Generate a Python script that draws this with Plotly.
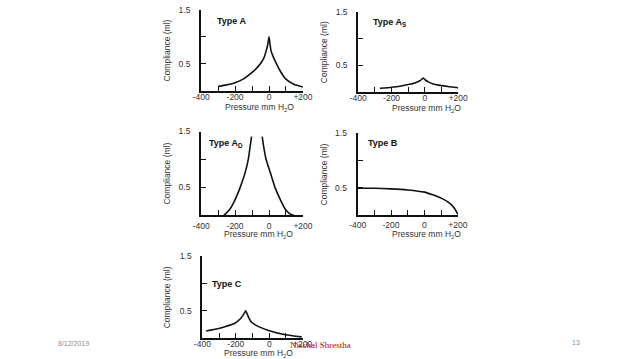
import plotly.graph_objects as go

W, H = 638, 359

# ---------------- data ----------------
PRESSURE_A = [-300, -250, -200, -150, -100, -70, -45, -30, -17, -8, 0, 6, 12, 25, 41, 60, 98, 146, 200]
COMPLIANCE_A = [0.08, 0.11, 0.15, 0.22, 0.34, 0.43, 0.53, 0.61, 0.74, 0.85, 1.0, 0.86, 0.74, 0.63, 0.52, 0.40, 0.22, 0.12, 0.07]

PRESSURE_AS = [-270, -200, -150, -100, -60, -30, -10, 5, 20, 50, 100, 150, 200]
COMPLIANCE_AS = [0.07, 0.09, 0.11, 0.14, 0.17, 0.21, 0.26, 0.22, 0.19, 0.15, 0.12, 0.10, 0.08]

PRESSURE_AD_LEFT = [-266, -233, -203, -170, -141, -122, -111, -103]
COMPLIANCE_AD_LEFT = [0.0, 0.10, 0.26, 0.50, 0.76, 1.0, 1.24, 1.41]
PRESSURE_AD_RIGHT = [-40, -32, -17, 8, 35, 70, 98, 127, 146]
COMPLIANCE_AD_RIGHT = [1.41, 1.24, 1.0, 0.76, 0.50, 0.26, 0.10, 0.02, 0.0]

PRESSURE_B = [-400, -300, -200, -100, 0, 50, 100, 150, 180, 200]
COMPLIANCE_B = [0.49, 0.49, 0.48, 0.46, 0.42, 0.37, 0.31, 0.22, 0.12, 0.01]

PRESSURE_C = [-377, -309, -261, -206, -174, -154, -141, -125, -106, -57, -5, 97, 194]
COMPLIANCE_C = [0.13, 0.17, 0.21, 0.27, 0.35, 0.43, 0.50, 0.39, 0.29, 0.20, 0.14, 0.06, 0.02]

X_TICKS = [-400, -200, 0, 200]
X_TICK_TEXT = ["-400", "-200", "0", "+200"]
Y_TICKS = [0.5, 1.0, 1.5]
Y_TICK_TEXT = ["0.5", "", "1.5"]

TITLES = ["Type A", "Type A<sub>S</sub>", "Type A<sub>D</sub>", "Type B", "Type C"]
X_TITLE = "Pressure mm H<sub>2</sub>O"
Y_TITLE = "Compliance (ml)"

# ---------------- layout geometry (pixels) ----------------
# (x_left, x_right, y_top(1.5), y_bottom(0))
PANELS = [
    (198, 303, 5, 87),
    (360, 463, 6.7, 88.3),
    (198, 303, 128.3, 213.3),
    (359.3, 462.7, 130, 213),
    (199.3, 302.7, 255, 337.7),
]
TITLE_POS = [(230, 16), (392, 18), (224, 140), (385, 140), (225, 283)]
XTITLE_POS = [(258, 104), (430, 105), (257, 233), (430, 233), (257, 353)]
YTITLE_X = [163, 325, 163, 325, 163]
XLABEL_STANDOFF = [-3, -3, 1, 1, -3]

fig = go.Figure()

series = [
    [(PRESSURE_A, COMPLIANCE_A)],
    [(PRESSURE_AS, COMPLIANCE_AS)],
    [(PRESSURE_AD_LEFT, COMPLIANCE_AD_LEFT), (PRESSURE_AD_RIGHT, COMPLIANCE_AD_RIGHT)],
    [(PRESSURE_B, COMPLIANCE_B)],
    [(PRESSURE_C, COMPLIANCE_C)],
]

font_sans = "Liberation Sans, Arial, sans-serif"
annotations = []
for i, (panel, segs) in enumerate(zip(PANELS, series)):
    n = i + 1
    xa = "x" if n == 1 else f"x{n}"
    ya = "y" if n == 1 else f"y{n}"
    for px, py in segs:
        fig.add_trace(go.Scatter(x=px, y=py, mode="lines", xaxis=xa, yaxis=ya,
                                 line=dict(color="#111111", width=1.6, shape="spline", smoothing=0.5),
                                 showlegend=False, hoverinfo="skip"))
    x0, x1, yt, yb = panel
    xkey = "xaxis" if n == 1 else f"xaxis{n}"
    ykey = "yaxis" if n == 1 else f"yaxis{n}"
    fig.layout[xkey] = dict(
        domain=[x0 / W, x1 / W], anchor=ya, range=[-400, 200],
        showline=True, linecolor="#111111", linewidth=2, showgrid=False, zeroline=False,
        tickvals=X_TICKS, ticktext=X_TICK_TEXT, ticks="inside", ticklen=5, tickwidth=1.3,
        tickcolor="#111111", tickfont=dict(family=font_sans, size=8.5, color="#333333"),
        ticklabelstandoff=XLABEL_STANDOFF[i],
        minor=dict(dtick=100, tick0=0, ticks="inside", ticklen=5, tickwidth=1.3, tickcolor="#111111"),
        fixedrange=True,
    )
    fig.layout[ykey] = dict(
        domain=[1 - yb / H, 1 - yt / H], anchor=xa, range=[0, 1.5],
        showline=True, linecolor="#111111", linewidth=2, showgrid=False, zeroline=False,
        tickvals=Y_TICKS, ticktext=Y_TICK_TEXT, ticks="inside", ticklen=5, tickwidth=1.3,
        tickcolor="#111111", tickfont=dict(family=font_sans, size=8.5, color="#333333"),
        ticklabelstandoff=7, fixedrange=True,
    )
    tx, ty = TITLE_POS[i]
    annotations.append(dict(x=tx / W, y=1 - ty / H, xref="paper", yref="paper", text=f"<b>{TITLES[i]}</b>",
                            showarrow=False, xanchor="center", yanchor="middle",
                            font=dict(family=font_sans, size=9, color="#111111")))
    ax, ay = XTITLE_POS[i]
    annotations.append(dict(x=ax / W, y=1 - ay / H, xref="paper", yref="paper", text=X_TITLE,
                            showarrow=False, xanchor="center", yanchor="middle",
                            font=dict(family=font_sans, size=8.5, color="#333333")))
    annotations.append(dict(x=YTITLE_X[i] / W, y=1 - ((yt + yb) / 2) / H, xref="paper", yref="paper",
                            text=Y_TITLE, textangle=-90, showarrow=False, xanchor="center", yanchor="middle",
                            font=dict(family=font_sans, size=8.5, color="#333333")))

annotations += [
    dict(x=48 / W, y=1 - 343 / H, xref="paper", yref="paper", text="8/12/2019", showarrow=False,
         xanchor="left", yanchor="middle", font=dict(family=font_sans, size=7, color="#8c8c8c")),
    dict(x=288 / W, y=1 - 345 / H, xref="paper", yref="paper", text="Nischal Shrestha", showarrow=False,
         xanchor="left", yanchor="middle", font=dict(family="Liberation Serif, Times New Roman, serif", size=9, color="#c00000")),
    dict(x=584 / W, y=1 - 342 / H, xref="paper", yref="paper", text="13", showarrow=False,
         xanchor="center", yanchor="middle", font=dict(family=font_sans, size=7, color="#8c8c8c")),
]

fig.update_layout(width=W, height=H, margin=dict(l=0, r=0, t=0, b=0),
                  paper_bgcolor="white", plot_bgcolor="white",
                  annotations=annotations, showlegend=False)

fig.write_html("out.html", config={"displayModeBar": False},
               post_script="document.body.style.margin='0';document.body.style.overflow='hidden';")
